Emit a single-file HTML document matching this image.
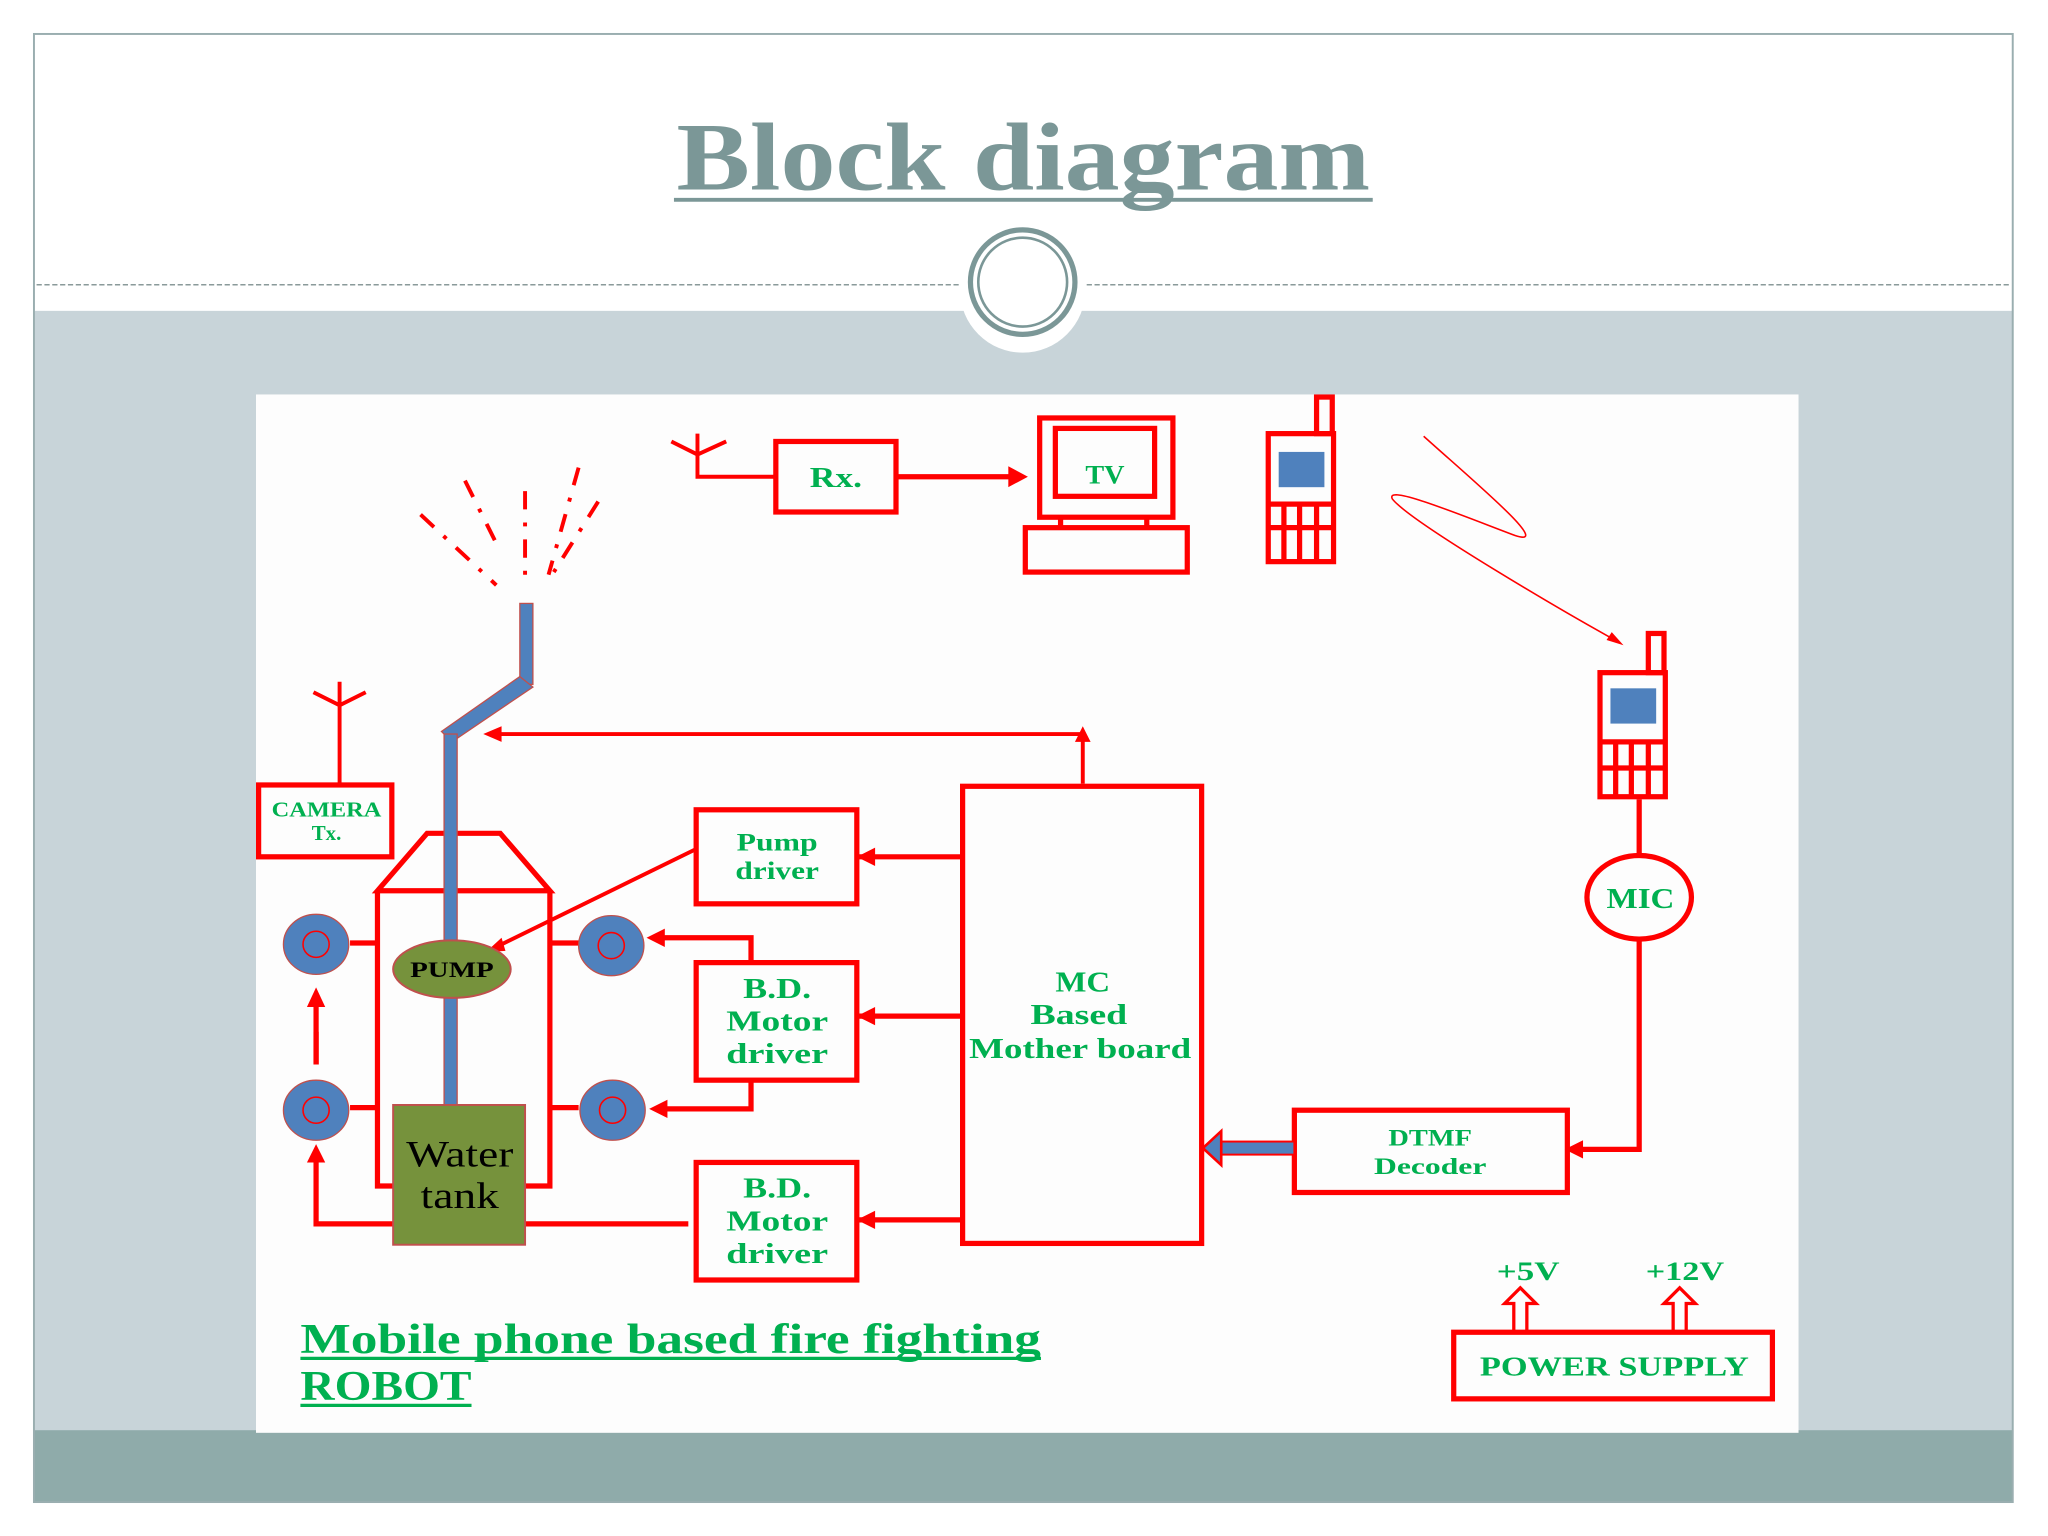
<!DOCTYPE html>
<html><head><meta charset="utf-8"><style>
html,body{margin:0;padding:0;background:#fff;}
svg{display:block;}
text{font-family:"Liberation Serif",serif;font-weight:bold;}
</style></head><body>
<svg width="2048" height="1536" viewBox="0 0 1568 1176" xmlns="http://www.w3.org/2000/svg">
<rect x="0" y="0" width="1568" height="1176" fill="#fff"/>
<rect x="26" y="238" width="1515" height="858" fill="#c8d4d9"/>
<rect x="26" y="1095" width="1515" height="55" fill="#8fabaa"/>
<rect x="26" y="26" width="1515" height="1124" fill="none" stroke="#9aaeb0" stroke-width="1.5"/>
<line x1="28" y1="218" x2="1539" y2="218" stroke="#8a9a9a" stroke-width="1.2" stroke-dasharray="4,2"/>
<circle cx="783" cy="222" r="48" fill="#fff"/>
<circle cx="783" cy="216" r="40" fill="#fff" stroke="#7b9797" stroke-width="4"/>
<circle cx="783" cy="216" r="34" fill="none" stroke="#7b9797" stroke-width="2"/>
<text x="518" y="145" font-size="74" fill="#7b9797" textLength="531" lengthAdjust="spacingAndGlyphs">Block diagram</text>
<line x1="516" y1="153" x2="1051" y2="153" stroke="#7b9797" stroke-width="3"/>
<rect x="196" y="302" width="1181" height="795" fill="#fdfdfd"/>
<g stroke="#ff0000" stroke-width="4" fill="none">
<path d="M534 332 V365 H594 M514 338 L534 348 L556 338" stroke-width="3"/>
<rect x="594" y="338" width="92" height="54"/>
<path d="M686 365 H775"/>
<rect x="796" y="320" width="102" height="76"/>
<rect x="808" y="328" width="76" height="52"/>
<path d="M812 396 V404 M878 396 V404"/>
<rect x="785" y="404" width="124" height="34"/>
<path d="M260 522 V600 M240 530 L260 540 L280 530" stroke-width="3"/>
<rect x="198" y="601" width="102" height="55"/>
<path d="M829 600 V562 H380" stroke-width="3"/>
<path d="M289 682 L327 638 H383 L421 682 Z M289 682 V908 H302 M421 682 V908 H402"/>
<path d="M268 722 H289 M421 722 H443 M268 848 H289 M421 848 H443"/>
<rect x="533" y="620" width="123" height="72"/>
<path d="M656 656 H737"/>
<rect x="533" y="737" width="123" height="90"/>
<path d="M656 778 H737"/>
<rect x="533" y="890" width="123" height="90"/>
<path d="M656 934 H737"/>
<rect x="737" y="602" width="183" height="350"/>
<path d="M575 737 V718 H505 M575 827 V849 H508"/>
<path d="M402 937 H527 M302 937 H242 V890 M242 815 V770"/>
<path d="M533 650 L380 725" stroke-width="3"/>
<rect x="991" y="850" width="209" height="63"/>
<path d="M1255 612 V655 M1255 720 V880 H1210"/>
<ellipse cx="1255" cy="687" rx="40" ry="32"/>
<rect x="1113" y="1020" width="244" height="51"/>
</g>
<g fill="#ff0000">
<polygon points="787,365 772,357 772,373"/>
<polygon points="829,556 823,568 835,568"/>
<polygon points="370,562 384,556 384,568"/>
<polygon points="656,656 670,649 670,663"/>
<polygon points="656,778 670,771 670,785"/>
<polygon points="656,934 670,927 670,941"/>
<polygon points="495,718 509,711 509,725"/>
<polygon points="497,849 511,842 511,856"/>
<polygon points="242,876 235,890 249,890"/>
<polygon points="242,756 235,771 249,771"/>
<polygon points="372,729 384,718 387,728"/>
<polygon points="1198,880 1212,873 1212,887"/>
</g>
<path d="M242 790 V815" stroke="#f00" stroke-width="4"/>
<g fill="#4f81bd" stroke="#c0504d" stroke-width="1">
<rect x="398" y="462" width="10" height="62"/>
<polygon points="398,518 408,526 346,568 338,560"/>
<rect x="340" y="562" width="10" height="290"/>
</g>
<g stroke="#ff0000" stroke-width="3" fill="none" stroke-dasharray="14,10,3,10">
<path d="M402 376 V440"/>
<path d="M356 368 L382 420"/>
<path d="M322 394 L380 448"/>
<path d="M443 358 L420 440"/>
<path d="M458 384 L424 438"/>
</g>
<g fill="#4f81bd" stroke="#c0504d" stroke-width="1">
<ellipse cx="242" cy="723" rx="25" ry="23"/>
<ellipse cx="242" cy="850" rx="25" ry="23"/>
<ellipse cx="468" cy="724" rx="25" ry="23"/>
<ellipse cx="469" cy="850" rx="25" ry="23"/>
</g>
<g fill="none" stroke="#f00" stroke-width="1.2">
<circle cx="242" cy="723" r="10"/><circle cx="242" cy="850" r="10"/>
<circle cx="468" cy="724" r="10"/><circle cx="469" cy="850" r="10"/>
</g>
<ellipse cx="346" cy="742" rx="45" ry="22" fill="#76923c" stroke="#c0504d" stroke-width="1.5"/>
<text x="346" y="748" text-anchor="middle" font-size="17" fill="#000" textLength="64" lengthAdjust="spacingAndGlyphs">PUMP</text>
<rect x="301" y="846" width="101" height="107" fill="#76923c" stroke="#c0504d" stroke-width="1.5"/>
<text x="352" y="893" text-anchor="middle" font-size="28" style="font-weight:normal" fill="#000" textLength="82" lengthAdjust="spacingAndGlyphs">Water</text>
<text x="352" y="925" text-anchor="middle" font-size="28" style="font-weight:normal" fill="#000" textLength="60" lengthAdjust="spacingAndGlyphs">tank</text>
<g stroke="#ff0000" stroke-width="4" fill="none">
<rect x="971" y="332" width="50" height="98"/>
<rect x="1008" y="304" width="12" height="28"/>
<path d="M971 386 H1021 M971 404 H1021 M983 386 V430 M995 386 V430 M1008 386 V430"/>
<rect x="1225" y="515" width="50" height="95"/>
<rect x="1262" y="485" width="12" height="30"/>
<path d="M1225 568 H1275 M1225 588 H1275 M1237 568 V610 M1249 568 V610 M1262 568 V610"/>
</g>
<rect x="979" y="346" width="35" height="27" fill="#4f81bd"/>
<rect x="1233" y="527" width="35" height="27" fill="#4f81bd"/>
<path d="M1090 334 C1130 370 1190 420 1160 410 C1120 395 1060 370 1066 382 C1080 400 1200 470 1240 492" stroke="#f00" stroke-width="1.2" fill="none"/>
<polygon points="1243,494 1230,490 1234,484" fill="#f00"/>
<rect x="933" y="874" width="58" height="10" fill="#4f81bd" stroke="#f00" stroke-width="1.5"/>
<polygon points="921,879 935,866 935,892" fill="#4f81bd" stroke="#f00" stroke-width="2"/>
<g fill="none" stroke="#f00" stroke-width="2.5">
<path d="M1159 1020 V998 H1152 L1164 986 L1176 998 H1169 V1020"/>
<path d="M1281 1020 V998 H1274 L1286 986 L1298 998 H1291 V1020"/>
</g>
<g fill="#00b050" text-anchor="middle" lengthAdjust="spacingAndGlyphs">
<text x="640" y="373" font-size="22" textLength="40" lengthAdjust="spacingAndGlyphs">Rx.</text>
<text x="846" y="370" font-size="20" textLength="30" lengthAdjust="spacingAndGlyphs">TV</text>
<text x="250" y="625" font-size="16" textLength="84" lengthAdjust="spacingAndGlyphs">CAMERA</text>
<text x="250" y="643" font-size="16">Tx.</text>
<text x="595" y="651" font-size="19" textLength="62" lengthAdjust="spacingAndGlyphs">Pump</text>
<text x="595" y="673" font-size="19" textLength="64" lengthAdjust="spacingAndGlyphs">driver</text>
<text x="595" y="764" font-size="22" textLength="52" lengthAdjust="spacingAndGlyphs">B.D.</text>
<text x="595" y="789" font-size="22" textLength="78" lengthAdjust="spacingAndGlyphs">Motor</text>
<text x="595" y="814" font-size="22" textLength="78" lengthAdjust="spacingAndGlyphs">driver</text>
<text x="595" y="917" font-size="22" textLength="52" lengthAdjust="spacingAndGlyphs">B.D.</text>
<text x="595" y="942" font-size="22" textLength="78" lengthAdjust="spacingAndGlyphs">Motor</text>
<text x="595" y="967" font-size="22" textLength="78" lengthAdjust="spacingAndGlyphs">driver</text>
<text x="829" y="759" font-size="22" textLength="42" lengthAdjust="spacingAndGlyphs">MC</text>
<text x="826" y="784" font-size="22" textLength="74" lengthAdjust="spacingAndGlyphs">Based</text>
<text x="827" y="810" font-size="22" textLength="170" lengthAdjust="spacingAndGlyphs">Mother board</text>
<text x="1256" y="695" font-size="22" textLength="52" lengthAdjust="spacingAndGlyphs">MIC</text>
<text x="1095" y="877" font-size="18" textLength="64" lengthAdjust="spacingAndGlyphs">DTMF</text>
<text x="1095" y="899" font-size="18" textLength="86" lengthAdjust="spacingAndGlyphs">Decoder</text>
<text x="1170" y="980" font-size="20" textLength="48" lengthAdjust="spacingAndGlyphs">+5V</text>
<text x="1290" y="980" font-size="20" textLength="60" lengthAdjust="spacingAndGlyphs">+12V</text>
<text x="1236" y="1053" font-size="21" textLength="206" lengthAdjust="spacingAndGlyphs">POWER SUPPLY</text>
</g>
<text x="230" y="1036" font-size="32" fill="#00b050" textLength="567" lengthAdjust="spacingAndGlyphs">Mobile phone based fire fighting</text>
<line x1="230" y1="1040" x2="797" y2="1040" stroke="#00b050" stroke-width="2.5"/>
<text x="230" y="1072" font-size="32" fill="#00b050" textLength="131" lengthAdjust="spacingAndGlyphs">ROBOT</text>
<line x1="230" y1="1076" x2="361" y2="1076" stroke="#00b050" stroke-width="2.5"/>
</svg>
</body></html>
